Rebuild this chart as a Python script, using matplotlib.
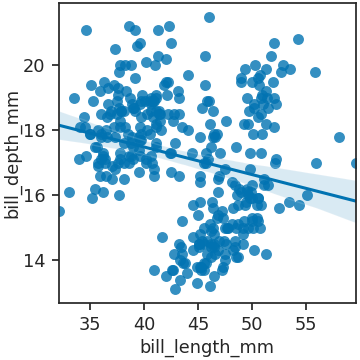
import matplotlib
matplotlib.use("Agg")
import matplotlib.pyplot as plt
import numpy as np
import pandas as pd
import seaborn as sns

# penguins: bill length / depth (mm), rows with missing values dropped
adelie_length = [39.1, 39.5, 40.3, 36.7, 39.3, 38.9, 39.2, 34.1, 42.0, 37.8, 37.8, 41.1, 38.6, 34.6,
                 36.6, 38.7, 42.5, 34.4, 46.0, 37.8, 37.7, 35.9, 38.2, 38.8, 35.3, 40.6, 40.5, 37.9,
                 40.5, 39.5, 37.2, 39.5, 40.9, 36.4, 39.2, 38.8, 42.2, 37.6, 39.8, 36.5, 40.8, 36.0,
                 44.1, 37.0, 39.6, 41.1, 37.5, 36.0, 42.3, 39.6, 40.1, 35.0, 42.0, 34.5, 41.4, 39.0,
                 40.6, 36.5, 37.6, 35.7, 41.3, 37.6, 41.1, 36.4, 41.6, 35.5, 41.1, 35.9, 41.8, 33.5,
                 39.7, 39.6, 45.8, 35.5, 42.8, 40.9, 37.2, 36.2, 42.1, 34.6, 42.9, 36.7, 35.1, 37.3,
                 41.3, 36.3, 36.9, 38.3, 38.9, 35.7, 41.1, 34.0, 39.6, 36.2, 40.8, 38.1, 40.3, 33.1,
                 43.2, 35.0, 41.0, 37.7, 37.8, 37.9, 39.7, 38.6, 38.2, 38.1, 43.2, 38.1, 45.6, 39.7,
                 42.2, 39.6, 42.7, 38.6, 37.3, 35.7, 41.1, 36.2, 37.7, 40.2, 41.4, 35.2, 40.6, 38.8,
                 41.5, 39.0, 44.1, 38.5, 43.1, 36.8, 37.5, 38.1, 41.1, 35.6, 40.2, 37.0, 39.7, 40.2,
                 40.6, 32.1, 40.7, 37.3, 39.0, 39.2, 36.6, 36.0, 37.8, 36.0, 41.5]
adelie_depth = [18.7, 17.4, 18.0, 19.3, 20.6, 17.8, 19.6, 18.1, 20.2, 17.1, 17.3, 17.6, 21.2, 21.1,
                17.8, 19.0, 20.7, 18.4, 21.5, 18.3, 18.7, 19.2, 18.1, 17.2, 18.9, 18.6, 17.9, 18.6,
                18.9, 16.7, 18.1, 17.8, 18.9, 17.0, 21.1, 20.0, 18.5, 19.3, 19.1, 18.0, 18.4, 18.5,
                19.7, 16.9, 18.8, 19.0, 18.9, 17.9, 21.2, 17.7, 18.9, 17.9, 19.5, 18.1, 18.6, 17.5,
                18.8, 16.6, 19.1, 16.9, 21.1, 17.0, 18.2, 17.1, 18.0, 16.2, 19.1, 16.6, 19.4, 19.0,
                18.4, 17.2, 18.9, 17.5, 18.5, 16.8, 19.4, 16.1, 19.1, 17.2, 17.6, 18.8, 19.4, 17.8,
                20.3, 19.5, 18.6, 19.2, 18.8, 18.0, 18.1, 17.1, 18.1, 17.3, 18.9, 18.6, 18.5, 16.1,
                18.5, 17.9, 20.0, 16.0, 20.0, 18.6, 18.9, 17.2, 20.0, 17.0, 19.0, 16.5, 20.3, 17.7,
                19.5, 20.7, 18.3, 17.0, 20.5, 17.0, 18.6, 17.2, 19.8, 17.0, 18.5, 15.9, 19.0, 17.6,
                18.3, 17.1, 18.0, 17.9, 19.2, 18.5, 18.5, 17.6, 17.5, 17.5, 20.1, 16.5, 17.9, 17.1,
                17.2, 15.5, 17.0, 16.8, 18.7, 18.6, 18.4, 17.8, 18.1, 17.1, 18.5]

chinstrap_length = [46.5, 50.0, 51.3, 45.4, 52.7, 45.2, 46.1, 51.3, 46.0, 51.3, 46.6, 51.7, 47.0, 52.0,
                    45.9, 50.5, 50.3, 58.0, 46.4, 49.2, 42.4, 48.5, 43.2, 50.6, 46.7, 52.0, 50.5, 49.5,
                    46.4, 52.8, 40.9, 54.2, 42.5, 51.0, 49.7, 47.5, 47.6, 52.0, 46.9, 53.5, 49.0, 46.2,
                    50.9, 45.5, 50.9, 50.8, 50.1, 49.0, 51.5, 49.8, 48.1, 51.4, 45.7, 50.7, 42.5, 52.2,
                    45.2, 49.3, 50.2, 45.6, 51.9, 46.8, 45.7, 55.8, 43.5, 49.6, 50.8, 50.2]
chinstrap_depth = [17.9, 19.5, 19.2, 18.7, 19.8, 17.8, 18.2, 18.2, 18.9, 19.9, 17.8, 20.3, 17.3, 18.1,
                   17.1, 19.6, 20.0, 17.8, 18.6, 18.2, 17.3, 17.5, 16.6, 19.4, 17.9, 19.0, 18.4, 19.0,
                   17.8, 20.0, 16.6, 20.8, 16.7, 18.8, 18.6, 16.8, 18.3, 20.7, 16.6, 19.9, 19.5, 17.5,
                   19.1, 17.0, 17.9, 18.5, 17.9, 19.6, 18.7, 17.3, 16.4, 19.0, 17.3, 19.7, 17.3, 18.8,
                   16.6, 19.9, 18.8, 19.4, 19.5, 16.5, 17.0, 19.8, 18.1, 18.2, 19.0, 18.7]

gentoo_length = [46.1, 50.0, 48.7, 50.0, 47.6, 46.5, 45.4, 46.7, 43.3, 46.8, 40.9, 49.0, 45.5, 48.4,
                 45.8, 49.3, 42.0, 49.2, 46.2, 48.7, 50.2, 45.1, 46.5, 46.3, 42.9, 46.1, 44.5, 47.8,
                 48.2, 50.0, 47.3, 42.8, 45.1, 59.6, 49.1, 48.4, 42.6, 44.4, 44.0, 48.7, 42.7, 49.6,
                 45.3, 49.6, 50.5, 43.6, 45.5, 50.5, 44.9, 45.2, 46.6, 48.5, 45.1, 50.1, 46.5, 45.0,
                 43.8, 45.5, 43.2, 50.4, 45.3, 46.2, 45.7, 54.3, 45.8, 49.8, 46.2, 49.5, 43.5, 50.7,
                 47.7, 46.4, 48.2, 46.5, 46.4, 48.6, 47.5, 51.1, 45.2, 45.2, 49.1, 52.5, 47.4, 50.0,
                 44.9, 50.8, 43.4, 51.3, 47.5, 52.1, 47.5, 52.2, 45.5, 49.5, 44.5, 50.8, 49.4, 46.9,
                 48.4, 51.1, 48.5, 55.9, 47.2, 49.1, 47.3, 46.8, 41.7, 53.4, 43.3, 48.1, 50.5, 49.8,
                 43.5, 51.5, 46.2, 55.1, 44.5, 48.8, 47.2, 46.8, 50.4, 45.2, 49.9]
gentoo_depth = [13.2, 16.3, 14.1, 15.2, 14.5, 13.5, 14.6, 15.3, 13.4, 15.4, 13.7, 16.1, 13.7, 14.6,
                14.6, 15.7, 13.5, 15.2, 14.5, 15.1, 14.3, 14.5, 14.5, 15.8, 13.1, 15.1, 14.3, 15.0,
                14.3, 15.3, 15.3, 14.2, 14.5, 17.0, 14.8, 16.3, 13.7, 17.3, 13.6, 15.7, 13.7, 16.0,
                13.7, 15.0, 15.9, 13.9, 13.9, 15.9, 13.3, 15.8, 14.2, 14.1, 14.4, 15.0, 14.4, 15.4,
                13.9, 15.0, 14.5, 15.3, 13.8, 14.9, 13.9, 15.7, 14.2, 16.8, 14.4, 16.2, 14.2, 15.0,
                15.0, 15.6, 15.6, 14.8, 15.0, 16.0, 14.2, 16.3, 13.8, 16.4, 14.5, 15.6, 14.6, 15.9,
                13.8, 17.3, 14.4, 14.2, 14.0, 17.0, 15.0, 17.1, 14.5, 16.1, 14.7, 15.7, 15.8, 14.6,
                14.4, 16.5, 15.0, 17.0, 15.5, 15.0, 13.8, 16.1, 14.7, 15.8, 14.0, 15.1, 15.2, 15.9,
                15.2, 16.3, 14.1, 16.0, 15.7, 16.2, 13.7, 14.3, 15.7, 14.8, 16.1]

df = pd.DataFrame({
    "bill_length_mm": adelie_length + chinstrap_length + gentoo_length,
    "bill_depth_mm": adelie_depth + chinstrap_depth + gentoo_depth,
})

sns.set_theme(style="ticks", palette="colorblind")
plt.rcParams["font.family"] = ["DejaVu Sans"]

fig, ax = plt.subplots(figsize=(3.6, 3.6), dpi=100)
fig.subplots_adjust(left=0.163, right=0.989, bottom=0.158, top=0.992)

sns.regplot(data=df, x="bill_length_mm", y="bill_depth_mm", ax=ax,
            color="#0173B2", seed=0,
            scatter_kws={"s": 62, "linewidths": 0},
            line_kws={"linewidth": 2.2})
ax.margins(x=0)

ax.set_xticks([35, 40, 45, 50, 55])
ax.set_yticks([14, 16, 18, 20])
ax.tick_params(labelsize=12.8, length=5, width=1.25, pad=4.5, colors=".15")
ax.xaxis.label.set_size(12.8)
ax.yaxis.label.set_size(12.8)
ax.xaxis.labelpad = 3
ax.yaxis.labelpad = 1
for s in ax.spines.values():
    s.set_linewidth(1.25)

fig.savefig("out.png", dpi=100)
